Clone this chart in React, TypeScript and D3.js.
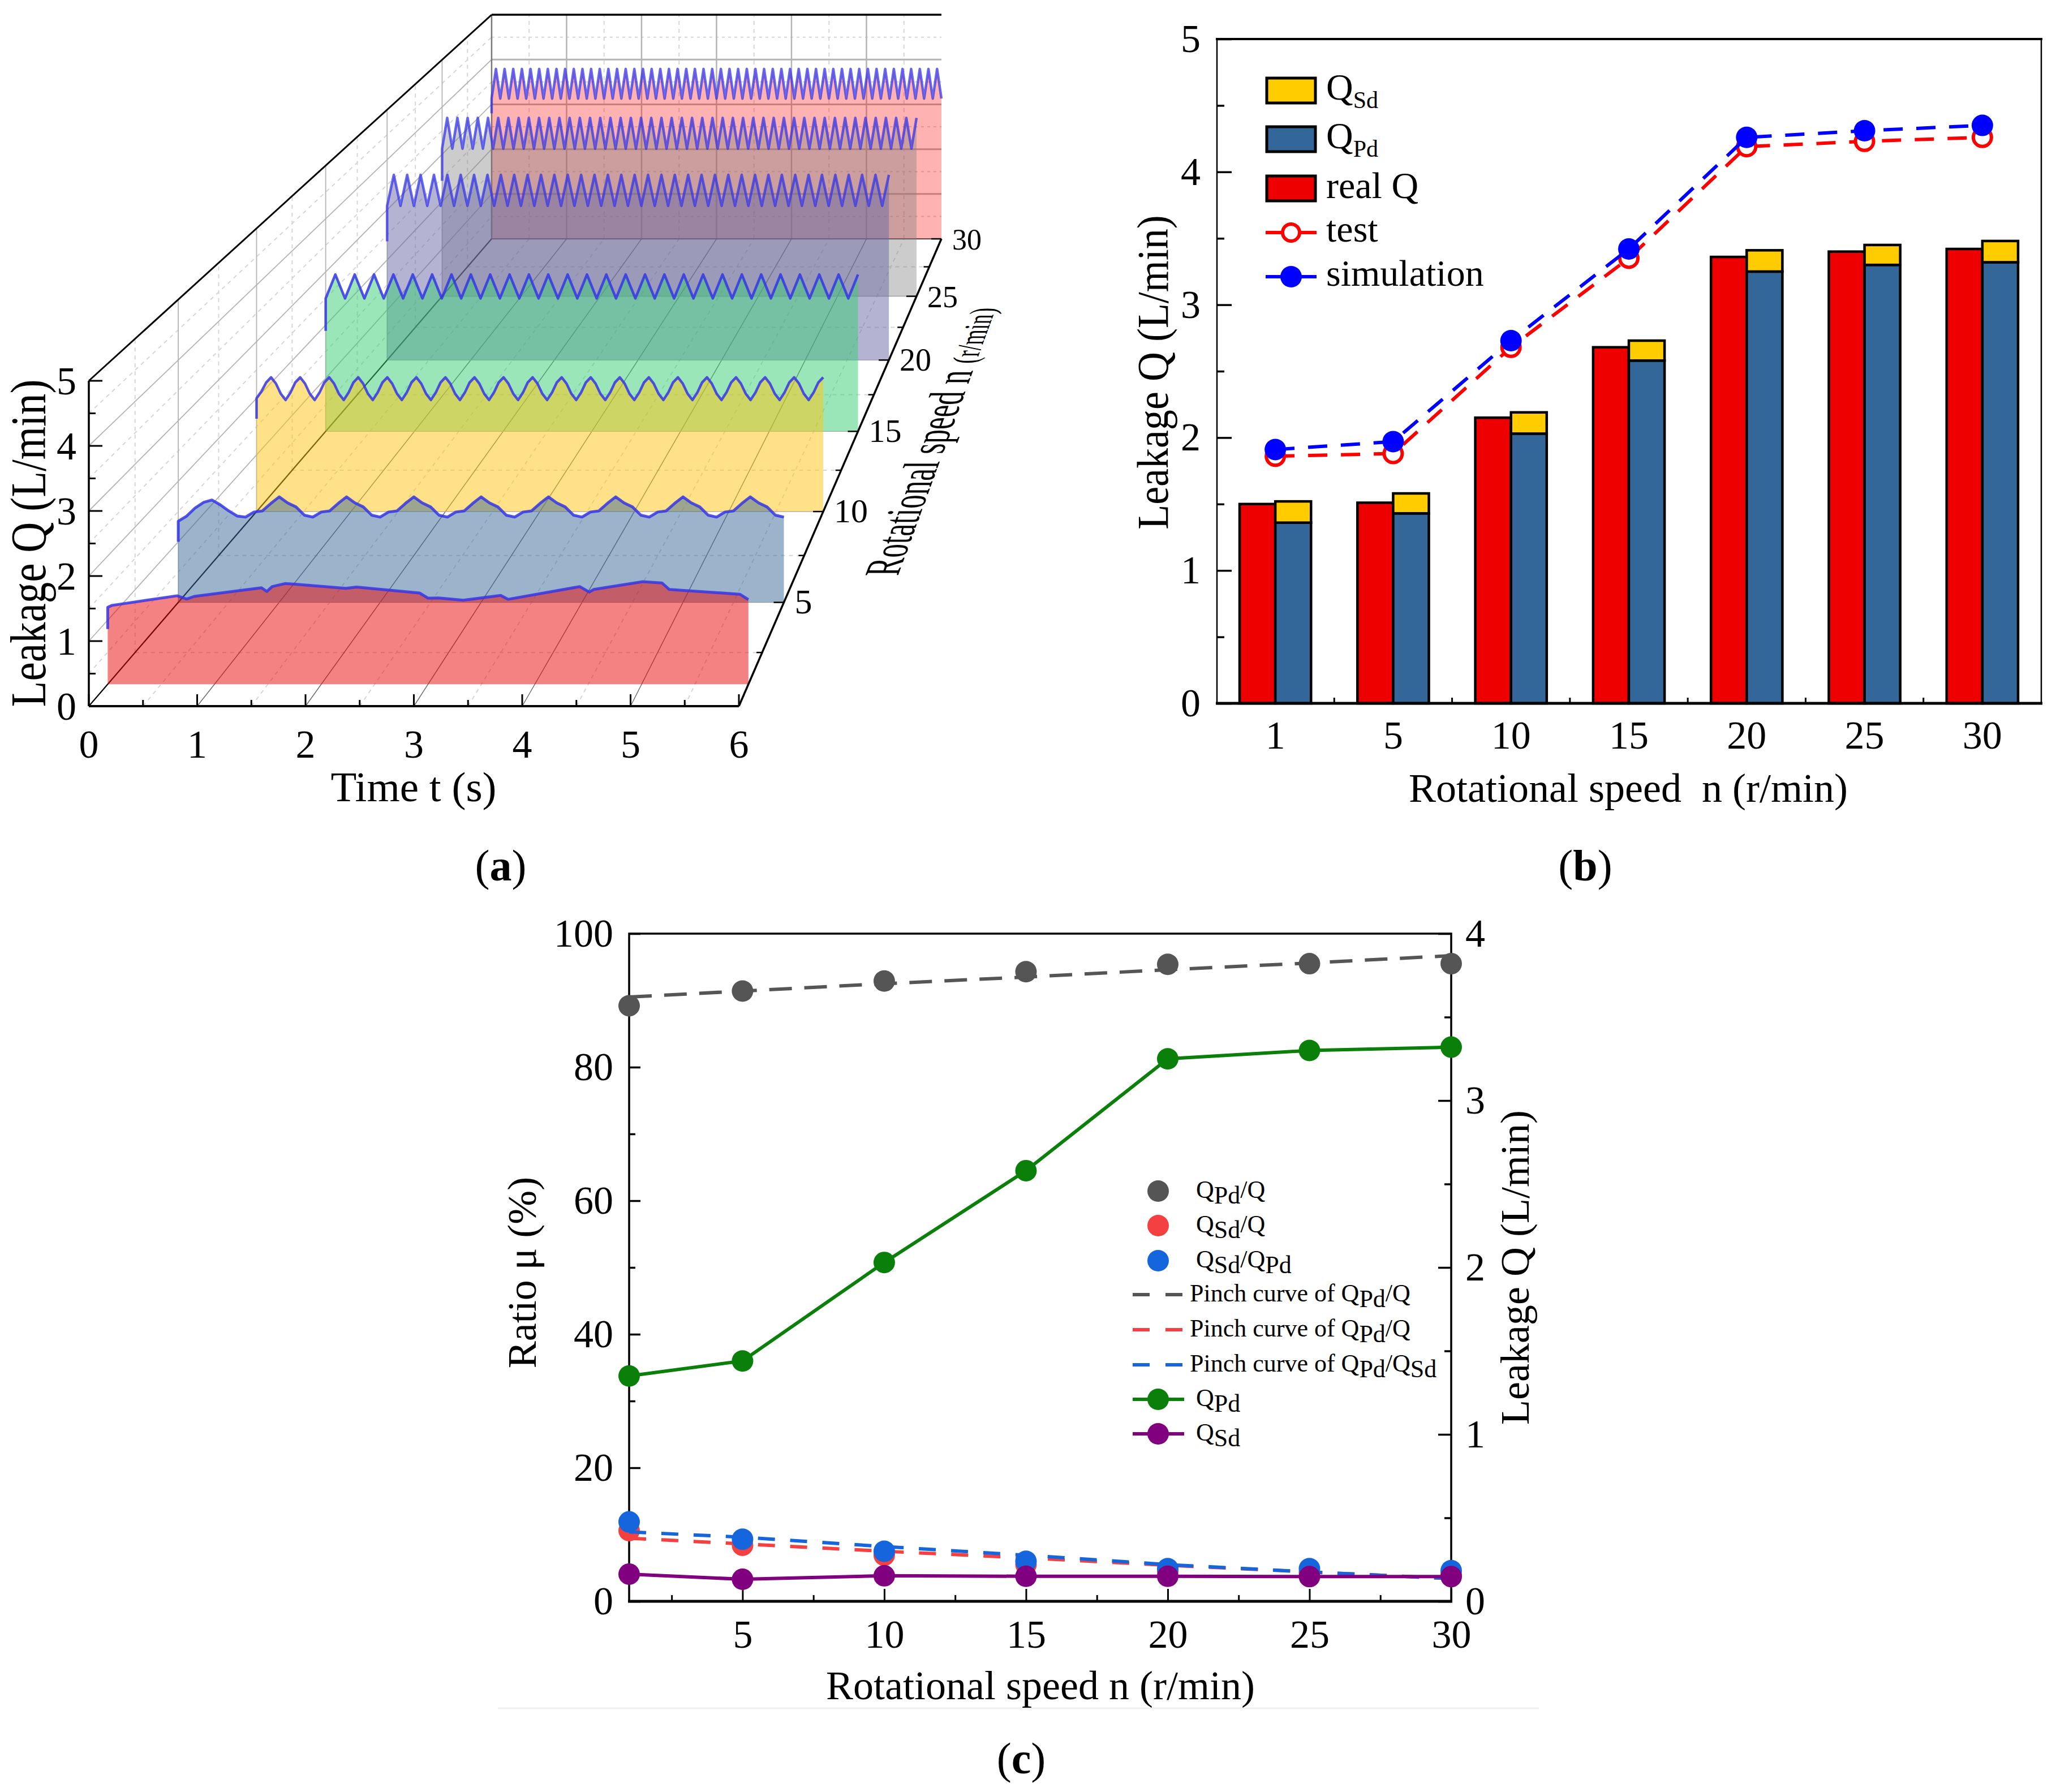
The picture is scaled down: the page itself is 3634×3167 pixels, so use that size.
import React, { useRef, useEffect } from 'react'
import * as d3 from 'd3'

const SERIF = '"Liberation Serif", "Times New Roman", serif'

// panel (a) - leakage waveforms
const speeds = [30, 25, 20, 15, 10, 5, 1]
const speedTicks = [5, 10, 15, 20, 25, 30]
const speedMinor = [2.5, 7.5, 12.5, 17.5, 22.5, 27.5]
const startQ = [2.8, 2.44, 2.37, 1.89, 1.64, 1.0, 0.86]
const areaFill = ['#ff0000', '#808080', '#6969a5', '#37cd73', '#ffc30f', '#376997', '#eb0505']
const areaAlpha = [0.3, 0.4, 0.5, 0.5, 0.5, 0.5, 0.5]

const q30 = [3.13,
  3.79, 3.13, 3.79, 3.13, 3.79, 3.13, 3.79, 3.13, 3.79, 3.13, 3.79, 3.13, 3.79, 3.13, 3.79, 3.13, 3.79, 3.13, 3.79, 3.13,
  3.79, 3.13, 3.79, 3.13, 3.79, 3.13, 3.79, 3.13, 3.79, 3.13, 3.79, 3.13, 3.79, 3.13, 3.79, 3.13, 3.79, 3.13, 3.79, 3.13,
  3.79, 3.13, 3.79, 3.13, 3.79, 3.13, 3.79, 3.13, 3.79, 3.13, 3.79, 3.13, 3.79, 3.13, 3.79, 3.13, 3.79, 3.13, 3.79, 3.13,
  3.79, 3.13, 3.79, 3.13, 3.79, 3.13, 3.79, 3.13, 3.79, 3.13, 3.79, 3.13, 3.79, 3.13, 3.79, 3.13, 3.79, 3.13, 3.79, 3.13,
  3.79, 3.13, 3.79, 3.13, 3.79, 3.13, 3.79, 3.13, 3.79, 3.13, 3.79, 3.13, 3.79, 3.13, 3.79, 3.13, 3.79, 3.13, 3.79, 3.13,
  3.79, 3.13, 3.79, 3.13]
const q25 = [3.12,
  3.77, 3.12, 3.77, 3.12, 3.77, 3.12, 3.77, 3.12, 3.77, 3.12, 3.77, 3.12, 3.77, 3.12, 3.77, 3.12, 3.77, 3.12, 3.77, 3.12,
  3.77, 3.12, 3.77, 3.12, 3.77, 3.12, 3.77, 3.12, 3.77, 3.12, 3.77, 3.12, 3.77, 3.12, 3.77, 3.12, 3.77, 3.12, 3.77, 3.12,
  3.77, 3.12, 3.77, 3.12, 3.77, 3.12, 3.77, 3.12, 3.77, 3.12, 3.77, 3.12, 3.77, 3.12, 3.77, 3.12, 3.77, 3.12, 3.77, 3.12,
  3.77, 3.12, 3.77, 3.12, 3.77, 3.12, 3.77, 3.12, 3.77, 3.12, 3.77, 3.12, 3.77, 3.12, 3.77, 3.12, 3.77, 3.12, 3.77, 3.12,
  3.77, 3.12, 3.77, 3.12, 3.77, 3.12, 3.77, 3.12, 3.77, 3.12, 3.77, 3.12, 3.77]
const q20 = [3.08,
  3.7, 3.08, 3.7, 3.08, 3.7, 3.08, 3.7, 3.08, 3.7, 3.08, 3.7, 3.08, 3.7, 3.08, 3.7, 3.08, 3.7, 3.08, 3.7, 3.08,
  3.7, 3.08, 3.7, 3.08, 3.7, 3.08, 3.7, 3.08, 3.7, 3.08, 3.7, 3.08, 3.7, 3.08, 3.7, 3.08, 3.7, 3.08, 3.7, 3.08,
  3.7, 3.08, 3.7, 3.08, 3.7, 3.08, 3.7, 3.08, 3.7, 3.08, 3.7, 3.08, 3.7, 3.08, 3.7, 3.08, 3.7, 3.08, 3.7, 3.08,
  3.7, 3.08, 3.7, 3.08, 3.7, 3.08, 3.7, 3.08, 3.7, 3.08, 3.7, 3.08, 3.7, 3.08, 3.7]
const q15 = [2.5,
  2.95, 2.5, 2.95, 2.5, 2.95, 2.5, 2.95, 2.5, 2.95, 2.5, 2.95, 2.5, 2.95, 2.5, 2.95, 2.5, 2.95, 2.5, 2.95, 2.5,
  2.95, 2.5, 2.95, 2.5, 2.95, 2.5, 2.95, 2.5, 2.95, 2.5, 2.95, 2.5, 2.95, 2.5, 2.95, 2.5, 2.95, 2.5, 2.95, 2.5,
  2.95, 2.5, 2.95, 2.5, 2.95, 2.5, 2.95, 2.5, 2.95, 2.5, 2.95, 2.5, 2.95, 2.5, 2.95]
const q10 = [
  2.0, 2.12, 2.28, 2.37, 2.26, 2.08,
  1.97, 2.1, 2.28, 2.37, 2.26, 2.08,
  1.97, 2.1, 2.28, 2.37, 2.26, 2.08,
  1.97, 2.1, 2.28, 2.37, 2.26, 2.08,
  1.97, 2.1, 2.28, 2.37, 2.26, 2.08,
  1.97, 2.1, 2.28, 2.37, 2.26, 2.08,
  1.97, 2.1, 2.28, 2.37, 2.26, 2.08,
  1.97, 2.1, 2.28, 2.37, 2.26, 2.08,
  1.97, 2.1, 2.28, 2.37, 2.26, 2.08,
  1.97, 2.1, 2.28, 2.37, 2.26, 2.08,
  1.97, 2.1, 2.28, 2.37, 2.26, 2.08,
  1.97, 2.1, 2.28, 2.37, 2.26, 2.08,
  1.97, 2.1, 2.28, 2.37, 2.26, 2.08,
  1.97, 2.1, 2.28, 2.37, 2.26, 2.08,
  1.97, 2.1, 2.28, 2.37, 2.26, 2.08,
  1.97, 2.1, 2.28, 2.37, 2.26, 2.08,
  1.97, 2.1, 2.28, 2.37, 2.26, 2.08,
  1.97, 2.1, 2.28, 2.37, 2.26, 2.08,
  1.97, 2.1, 2.28, 2.37, 2.26, 2.08,
  1.97, 2.1, 2.28, 2.37]
const q5 = [
  1.34, 1.425, 1.558, 1.65, 1.69, 1.61, 1.51, 1.426,
  1.408, 1.492, 1.51, 1.633, 1.742, 1.642, 1.576, 1.44,
  1.408, 1.492, 1.51, 1.633, 1.742, 1.642, 1.576, 1.44,
  1.408, 1.492, 1.51, 1.633, 1.742, 1.642, 1.576, 1.44,
  1.408, 1.492, 1.51, 1.633, 1.742, 1.642, 1.576, 1.44,
  1.408, 1.492, 1.51, 1.633, 1.742, 1.642, 1.576, 1.44,
  1.408, 1.492, 1.51, 1.633, 1.742, 1.642, 1.576, 1.44,
  1.408, 1.492, 1.51, 1.633, 1.742, 1.642, 1.576, 1.44,
  1.408, 1.492, 1.51, 1.633, 1.742, 1.642, 1.576, 1.44,
  1.408]
const t1 = [0, 0.04, 0.65, 0.74, 0.81, 1.44, 1.49, 1.54, 1.66, 1.76, 2.23, 2.33, 2.92, 3.0, 3.1, 3.33, 3.68, 3.75, 4.42, 4.51, 4.55, 5.01, 5.19, 5.26, 5.92, 6.0]
const q1 = [1.2, 1.23, 1.38, 1.33, 1.37, 1.505, 1.447, 1.523, 1.57, 1.56, 1.495, 1.515, 1.423, 1.343, 1.346, 1.31, 1.386, 1.325, 1.523, 1.437, 1.478, 1.6, 1.58, 1.478, 1.404, 1.32]
const waves = [q30, q25, q20, q15, q10, q5, q1]

// panel (b)
const categories = ['1', '5', '10', '15', '20', '25', '30']
const realQ = [1.5, 1.51, 2.15, 2.68, 3.36, 3.4, 3.42]
const qPdTop = [1.36, 1.43, 2.03, 2.58, 3.25, 3.3, 3.32]
const qSdTop = [1.52, 1.58, 2.19, 2.73, 3.41, 3.45, 3.48]
const testQ = [1.86, 1.88, 2.68, 3.35, 4.19, 4.23, 4.26]
const simQ = [1.91, 1.97, 2.73, 3.42, 4.26, 4.31, 4.35]

// panel (c)
const speedC = [1, 5, 10, 15, 20, 25, 30]
const ratioPd = [89.2, 91.4, 92.9, 94.3, 95.4, 95.5, 95.5]
const ratioSd = [10.6, 8.4, 6.9, 5.5, 4.5, 4.3, 4.0]
const ratioSdPd = [11.9, 9.3, 7.5, 6.0, 4.9, 4.9, 4.6]
const pinchPd = [90.5, 91.4, 92.5, 93.5, 94.6, 95.6, 96.7]
const pinchSd = [9.45, 8.6, 7.5, 6.5, 5.4, 4.4, 3.4]
const pinchSdPd = [10.4, 9.6, 8.2, 6.9, 5.5, 4.4, 3.4]
const leakPd = [1.35, 1.44, 2.03, 2.58, 3.25, 3.3, 3.32]
const leakSd = [0.163, 0.132, 0.153, 0.15, 0.15, 0.148, 0.148]

type Seg = { t: string; sub?: number; bold?: boolean }

function label(g: any, x: number, y: number, segs: Seg[] | string, size: number, anchor = 'start', transform?: string) {
  const el = g.append('text')
    .attr('font-family', SERIF).attr('font-size', size).attr('fill', '#000')
    .attr('text-anchor', anchor)
  if (transform) el.attr('transform', transform)
  else el.attr('x', x).attr('y', y)
  const list = typeof segs === 'string' ? [{ t: segs }] : segs
  let prev = 0
  list.forEach((s: Seg) => {
    const shift = s.sub ? size * 0.22 : 0
    el.append('tspan')
      .attr('dy', shift - prev)
      .attr('font-size', s.sub ? s.sub : size)
      .attr('font-weight', s.bold ? 'bold' : 'normal')
      .text(s.t)
    prev = shift
  })
  return el
}

function axisStyle(g: any, size: number, width: number) {
  g.attr('font-family', SERIF).attr('font-size', size).attr('color', '#000')
  g.select('.domain').remove()
  g.selectAll('line').attr('stroke-width', width)
  return g
}

function drawPanelA(svg: any) {
  const g = svg.append('g')
  const xFront = d3.scaleLinear().domain([0, 6]).range([157, 1306])
  const xBack = d3.scaleLinear().domain([0, 6]).range([869, 1664])
  const yFront = d3.scaleLinear().domain([0, 5]).range([1248, 673])
  const yBack = d3.scaleLinear().domain([0, 5]).range([422, 26])
  // depth follows a one point perspective fitted to the n axis ticks
  const depth = (n: number) => (0.04757 * n) / (1 + 0.01424 * n)
  const project = (t: number, n: number, q: number): [number, number] => {
    const f = depth(n)
    return [xFront(t) + (xBack(t) - xFront(t)) * f, yFront(q) + (yBack(q) - yFront(q)) * f]
  }
  const seg = (a: [number, number], b: [number, number], color: string, w: number, dash?: string) => {
    const l = g.append('line').attr('x1', a[0]).attr('y1', a[1]).attr('x2', b[0]).attr('y2', b[1])
      .attr('stroke', color).attr('stroke-width', w)
    if (dash) l.attr('stroke-dasharray', dash)
  }
  const GREY = '#b4b4b4'
  const DOT = '#d6d6d6'
  const tMajor = d3.range(1, 6)
  const tMinor = d3.range(0.5, 6, 1)
  const qMajor = d3.range(1, 5)
  const qMinor = d3.range(0.5, 5, 1)

  // back wall and left wall
  tMinor.forEach(t => seg(project(t, 30, 0), project(t, 30, 5), DOT, 2, '7 7'))
  qMinor.forEach(q => {
    seg(project(0, 30, q), project(6, 30, q), DOT, 2, '5 6')
    seg(project(0, 0, q), project(0, 30, q), DOT, 2, '7 7')
  })
  speedMinor.forEach(n => seg(project(0, n, 0), project(0, n, 5), DOT, 2, '7 7'))
  tMajor.forEach(t => seg(project(t, 30, 0), project(t, 30, 5), GREY, 2.5))
  qMajor.forEach(q => {
    seg(project(0, 30, q), project(6, 30, q), GREY, 3)
    seg(project(0, 0, q), project(0, 30, q), GREY, 1.8)
  })
  speedTicks.slice(0, 5).forEach(n => seg(project(0, n, 0), project(0, n, 5), GREY, 1.8))
  seg(project(0, 30, 0), project(0, 30, 5), '#777', 2.5)

  // floor
  tMinor.forEach(t => seg(project(t, 0, 0), project(t, 30, 0), DOT, 2, '7 7'))
  speedMinor.forEach(n => seg(project(0, n, 0), project(6, n, 0), DOT, 2, '7 7'))
  tMajor.forEach(t => seg(project(t, 0, 0), project(t, 30, 0), '#666', 1.4))
  speedTicks.slice(0, 5).forEach(n => seg(project(0, n, 0), project(6, n, 0), '#aaa', 1.4))
  seg(project(0, 0, 0), project(0, 30, 0), '#000', 2.2)
  seg(project(0, 30, 0), project(6, 30, 0), '#555', 2.2)

  // waveforms, far to near
  const lineGen = d3.line<[number, number]>()
  speeds.forEach((n, i) => {
    const vals = waves[i]
    const tOf = d3.scaleLinear().domain([0, vals.length - 1]).range([0, 6])
    const ts = n === 1 ? t1 : vals.map((_, k) => tOf(k))
    const top = vals.map((q, k) => project(ts[k], n, q))
    const area = d3.area<[number, number]>()
      .x(d => d[0]).y1(d => d[1]).y0(project(0, n, 0)[1])
    g.append('path').attr('d', area(top)).attr('fill', areaFill[i]).attr('fill-opacity', areaAlpha[i])
    g.append('path')
      .attr('d', lineGen([project(0, n, startQ[i]), ...top]))
      .attr('fill', 'none').attr('stroke', '#3535e8').attr('stroke-width', n <= 5 ? 5 : 4.5)
      .attr('stroke-opacity', n > 15 ? 0.75 : 0.85).attr('stroke-linejoin', 'round')
  })

  // frame lines
  seg(project(0, 0, 0), project(0, 0, 5), '#000', 3.5)
  seg(project(0, 0, 5), project(0, 30, 5), '#000', 3)
  seg(project(0, 30, 5), project(6, 30, 5), '#000', 3.5)
  seg(project(0, 0, 0), project(6, 0, 0), '#000', 4)
  seg(project(6, 0, 0), project(6, 30, 0), '#000', 3.5)

  // ticks
  d3.range(0, 5.5, 1).forEach(q => seg(project(0, 0, q), [xFront(0) + 24, yFront(q)], '#000', 3))
  qMinor.forEach(q => seg(project(0, 0, q), [xFront(0) + 12, yFront(q)], '#000', 3))
  d3.range(0, 6.5, 1).forEach(t => seg(project(t, 0, 0), [xFront(t), yFront(0) - 21], '#000', 3))
  tMinor.forEach(t => seg(project(t, 0, 0), [xFront(t), yFront(0) - 11], '#000', 3))
  speedTicks.forEach(n => {
    const p = project(6, n, 0)
    seg(p, [p[0] - 18, p[1]], '#000', 2.5)
    label(g, p[0] + 19, p[1] + 19, String(n), 64 - n * 0.4)
  })
  speedMinor.forEach(n => {
    const p = project(6, n, 0)
    seg(p, [p[0] - 10, p[1]], '#000', 2.5)
  })

  d3.range(0, 5.5, 1).forEach(q => label(g, 135, yFront(q) + 24, String(q), 70, 'end'))
  d3.range(0, 6.5, 1).forEach(t => label(g, xFront(t), 1339, String(t), 70, 'middle'))

  label(g, 0, 0, 'Leakage Q (L/min)', 75, 'middle', 'translate(80,960) rotate(-90) scale(1,1.18)')
  label(g, 731, 1416, 'Time t (s)', 75, 'middle')
  // sheared title along the n axis
  const title = label(g, 0, 0, 'Rotational speed n ', 52, 'start', 'matrix(0.344,-0.939,1.7,0,1587,1018)')
  title.append('tspan').attr('font-size', 37).text('(r/min)')
  label(g, 885, 1556, [{ t: '(' }, { t: 'a', bold: true }, { t: ')' }], 78, 'middle')
}

function drawPanelB(svg: any) {
  const g = svg.append('g')
  const x = d3.scaleBand().domain(categories).range([2150, 3608])
  const y = d3.scaleLinear().domain([0, 5]).range([1243, 69])
  const bw = x.bandwidth()
  const cx = (c: string) => (x(c) as number) + bw / 2
  const barW = bw * 0.303

  const stack = [
    { vals: realQ, base: null, fill: '#ee0000', off: -barW },
    { vals: qPdTop, base: null, fill: '#336699', off: 0 },
    { vals: qSdTop, base: qPdTop, fill: '#ffcc00', off: 0 },
  ]
  stack.forEach(s => {
    g.selectAll(null).data(categories).join('rect')
      .attr('x', (c: string) => cx(c) + s.off)
      .attr('width', barW)
      .attr('y', (_: string, i: number) => y(s.vals[i]))
      .attr('height', (_: string, i: number) => y(s.base ? s.base[i] : 0) - y(s.vals[i]))
      .attr('fill', s.fill).attr('stroke', '#000').attr('stroke-width', 4.5)
  })

  // frame
  g.append('rect').attr('x', 2151).attr('y', 69).attr('width', 1457).attr('height', 1174)
    .attr('fill', 'none').attr('stroke', '#000').attr('stroke-width', 2.5)
  g.append('line').attr('x1', 2149).attr('x2', 3610).attr('y1', 69).attr('y2', 69).attr('stroke', '#000').attr('stroke-width', 4)
  g.append('line').attr('x1', 2149).attr('x2', 3610).attr('y1', 1243).attr('y2', 1243).attr('stroke', '#000').attr('stroke-width', 5)

  const yMajor = d3.axisLeft(y).tickValues([0, 1, 2, 3, 4, 5]).tickFormat(d3.format('d') as any).tickSize(-26).tickPadding(29)
  g.append('g').attr('transform', 'translate(2151,0)').call(yMajor).call(axisStyle, 70, 3.5)
  const yMinor = d3.axisLeft(y).tickValues([0.5, 1.5, 2.5, 3.5, 4.5]).tickFormat(() => '').tickSize(-13)
  g.append('g').attr('transform', 'translate(2151,0)').call(yMinor).call(axisStyle, 70, 3.5)

  const xMajor = d3.axisBottom(x).tickSize(0).tickPadding(30)
  g.append('g').attr('transform', 'translate(0,1243)').call(xMajor).call(axisStyle, 70, 3)
  categories.slice(1).forEach(c => {
    g.append('line').attr('x1', x(c)).attr('x2', x(c)).attr('y1', 1243).attr('y2', 1233)
      .attr('stroke', '#000').attr('stroke-width', 3)
  })

  const line = d3.line<number>().x((_, i) => cx(categories[i])).y(d => y(d))
  g.append('path').attr('d', line(testQ)).attr('fill', 'none').attr('stroke', '#ff0000').attr('stroke-width', 6).attr('stroke-dasharray', '34 24')
  g.selectAll(null).data(testQ).join('circle')
    .attr('cx', (_: number, i: number) => cx(categories[i])).attr('cy', (d: number) => y(d)).attr('r', 16)
    .attr('fill', '#fff').attr('stroke', '#ff0000').attr('stroke-width', 6)
  g.append('path').attr('d', line(simQ)).attr('fill', 'none').attr('stroke', '#0000ff').attr('stroke-width', 6).attr('stroke-dasharray', '34 24')
  g.selectAll(null).data(simQ).join('circle')
    .attr('cx', (_: number, i: number) => cx(categories[i])).attr('cy', (d: number) => y(d)).attr('r', 19)
    .attr('fill', '#0000ff')

  // legend
  const swatches = [
    { y: 138, fill: '#ffcc00' },
    { y: 224, fill: '#336699' },
    { y: 311, fill: '#ee0000' },
  ]
  swatches.forEach(s => {
    g.append('rect').attr('x', 2239).attr('y', s.y).attr('width', 86).attr('height', 44)
      .attr('fill', s.fill).attr('stroke', '#000').attr('stroke-width', 5)
  })
  label(g, 2344, 176, [{ t: 'Q' }, { t: 'Sd', sub: 42 }], 66)
  label(g, 2344, 262, [{ t: 'Q' }, { t: 'Pd', sub: 42 }], 66)
  label(g, 2344, 350, 'real Q', 66)
  label(g, 2344, 427, 'test', 66)
  label(g, 2344, 505, 'simulation', 66)
  g.append('line').attr('x1', 2237).attr('x2', 2327).attr('y1', 411).attr('y2', 411).attr('stroke', '#ff0000').attr('stroke-width', 6)
  g.append('circle').attr('cx', 2282).attr('cy', 411).attr('r', 15).attr('fill', '#fff').attr('stroke', '#ff0000').attr('stroke-width', 6)
  g.append('line').attr('x1', 2237).attr('x2', 2327).attr('y1', 489).attr('y2', 489).attr('stroke', '#0000ff').attr('stroke-width', 6)
  g.append('circle').attr('cx', 2282).attr('cy', 489).attr('r', 19).attr('fill', '#0000ff')

  label(g, 0, 0, 'Leakage Q (L/min)', 72, 'middle', 'translate(2064,658) rotate(-90) scale(1,1.1)')
  label(g, 2878, 1417, 'Rotational speed\u00a0\u00a0n (r/min)', 72, 'middle')
  label(g, 2802, 1556, [{ t: '(' }, { t: 'b', bold: true }, { t: ')' }], 78, 'middle')
}

function drawPanelC(svg: any) {
  const g = svg.append('g')
  const x = d3.scaleLinear().domain([1, 30]).range([1112, 2565])
  const y = d3.scaleLinear().domain([0, 100]).range([2830, 1650])
  const yQ = d3.scaleLinear().domain([0, 4]).range([2830, 1650])

  g.append('line').attr('x1', 880).attr('x2', 2720).attr('y1', 3019).attr('y2', 3019).attr('stroke', '#f0f0f0').attr('stroke-width', 3)

  g.append('rect').attr('x', 1112).attr('y', 1650).attr('width', 1453).attr('height', 1180)
    .attr('fill', 'none').attr('stroke', '#000').attr('stroke-width', 3.5)
  g.append('line').attr('x1', 1110).attr('x2', 2567).attr('y1', 2830).attr('y2', 2830).attr('stroke', '#000').attr('stroke-width', 5)

  const left = d3.axisLeft(y).tickValues(d3.range(0, 101, 20)).tickSize(-20).tickPadding(28)
  g.append('g').attr('transform', 'translate(1112,0)').call(left).call(axisStyle, 70, 3.5)
  const leftMinor = d3.axisLeft(y).tickValues(d3.range(10, 100, 20)).tickFormat(() => '').tickSize(-11)
  g.append('g').attr('transform', 'translate(1112,0)').call(leftMinor).call(axisStyle, 70, 3.5)
  const right = d3.axisRight(yQ).tickValues([0, 1, 2, 3, 4]).tickFormat(d3.format('d') as any).tickSize(-23).tickPadding(25)
  g.append('g').attr('transform', 'translate(2565,0)').call(right).call(axisStyle, 70, 3.5)
  const rightMinor = d3.axisRight(yQ).tickValues([0.5, 1.5, 2.5, 3.5]).tickFormat(() => '').tickSize(-12)
  g.append('g').attr('transform', 'translate(2565,0)').call(rightMinor).call(axisStyle, 70, 3.5)
  const bottom = d3.axisBottom(x).tickValues([5, 10, 15, 20, 25, 30]).tickSize(-22).tickPadding(32)
  g.append('g').attr('transform', 'translate(0,2830)').call(bottom).call(axisStyle, 70, 3)
  const bottomMinor = d3.axisBottom(x).tickValues([2.5, 7.5, 12.5, 17.5, 22.5, 27.5]).tickFormat(() => '').tickSize(-11)
  g.append('g').attr('transform', 'translate(0,2830)').call(bottomMinor).call(axisStyle, 70, 3)

  const dots = (vals: number[], scale: any, color: string) => {
    g.selectAll(null).data(vals).join('circle')
      .attr('cx', (_: number, i: number) => x(speedC[i])).attr('cy', (d: number) => scale(d)).attr('r', 19)
      .attr('fill', color)
  }
  const path = (vals: number[], scale: any, color: string, dash?: string) => {
    const line = d3.line<number>().x((_, i) => x(speedC[i])).y(d => scale(d))
    const p = g.append('path').attr('d', line(vals)).attr('fill', 'none').attr('stroke', color).attr('stroke-width', 6)
    if (dash) p.attr('stroke-dasharray', dash)
  }
  const GRAY = '#555555'
  const RED = '#f44040'
  const BLUE = '#1565dc'
  const GREEN = '#0a800a'
  const PURPLE = '#800080'
  dots(ratioPd, y, GRAY)
  path(pinchPd, y, GRAY, '40 22')
  dots(ratioSd, y, RED)
  path(pinchSd, y, RED, '30 27')
  dots(ratioSdPd, y, BLUE)
  path(pinchSdPd, y, BLUE, '30 27')
  path(leakPd, yQ, GREEN)
  dots(leakPd, yQ, GREEN)
  path(leakSd, yQ, PURPLE)
  dots(leakSd, yQ, PURPLE)

  // legend
  const FS = 44
  const sub = FS
  const dotRows = [
    { cy: 2105, color: GRAY, segs: [{ t: 'Q' }, { t: 'Pd', sub }, { t: '/Q' }] },
    { cy: 2166, color: RED, segs: [{ t: 'Q' }, { t: 'Sd', sub }, { t: '/Q' }] },
    { cy: 2228, color: BLUE, segs: [{ t: 'Q' }, { t: 'Sd', sub }, { t: '/Q' }, { t: 'Pd', sub }] },
  ]
  dotRows.forEach(r => {
    g.append('circle').attr('cx', 2047).attr('cy', r.cy).attr('r', 19).attr('fill', r.color)
    label(g, 2114, r.cy + 12, r.segs, FS)
  })
  const dashRows = [
    { cy: 2288, color: GRAY, segs: [{ t: 'Pinch curve of Q' }, { t: 'Pd', sub }, { t: '/Q' }] },
    { cy: 2350, color: RED, segs: [{ t: 'Pinch curve of Q' }, { t: 'Pd', sub }, { t: '/Q' }] },
    { cy: 2412, color: BLUE, segs: [{ t: 'Pinch curve of Q' }, { t: 'Pd', sub }, { t: '/Q' }, { t: 'Sd', sub }] },
  ]
  dashRows.forEach(r => {
    g.append('line').attr('x1', 2002).attr('x2', 2091).attr('y1', r.cy).attr('y2', r.cy)
      .attr('stroke', r.color).attr('stroke-width', 6).attr('stroke-dasharray', '30 28')
    label(g, 2103, r.cy + 12, r.segs, FS)
  })
  const lineRows = [
    { cy: 2473, color: GREEN, segs: [{ t: 'Q' }, { t: 'Pd', sub }] },
    { cy: 2534, color: PURPLE, segs: [{ t: 'Q' }, { t: 'Sd', sub }] },
  ]
  lineRows.forEach(r => {
    g.append('line').attr('x1', 2002).attr('x2', 2093).attr('y1', r.cy).attr('y2', r.cy).attr('stroke', r.color).attr('stroke-width', 6)
    g.append('circle').attr('cx', 2047).attr('cy', r.cy).attr('r', 19).attr('fill', r.color)
    label(g, 2114, r.cy + 12, r.segs, FS)
  })

  label(g, 0, 0, 'Ratio \u03bc (%)', 72, 'middle', 'translate(947,2249) rotate(-90)')
  label(g, 0, 0, 'Leakage Q (L/min)', 72, 'middle', 'translate(2702,2240) rotate(-90)')
  label(g, 1839, 3003, 'Rotational speed n (r/min)', 72, 'middle')
  label(g, 1805, 3134, [{ t: '(' }, { t: 'c', bold: true }, { t: ')' }], 78, 'middle')
}

export default function App() {
  const svgRef = useRef<SVGSVGElement>(null)

  useEffect(() => {
    const svg = d3.select(svgRef.current)
    svg.selectAll('*').remove()
    drawPanelA(svg)
    drawPanelB(svg)
    drawPanelC(svg)
  }, [])

  return (
    <svg
      ref={svgRef}
      width={3634}
      height={3167}
      viewBox="0 0 3634 3167"
      style={{ position: 'absolute', left: 0, top: 0, display: 'block', background: '#fff' }}
    />
  )
}
